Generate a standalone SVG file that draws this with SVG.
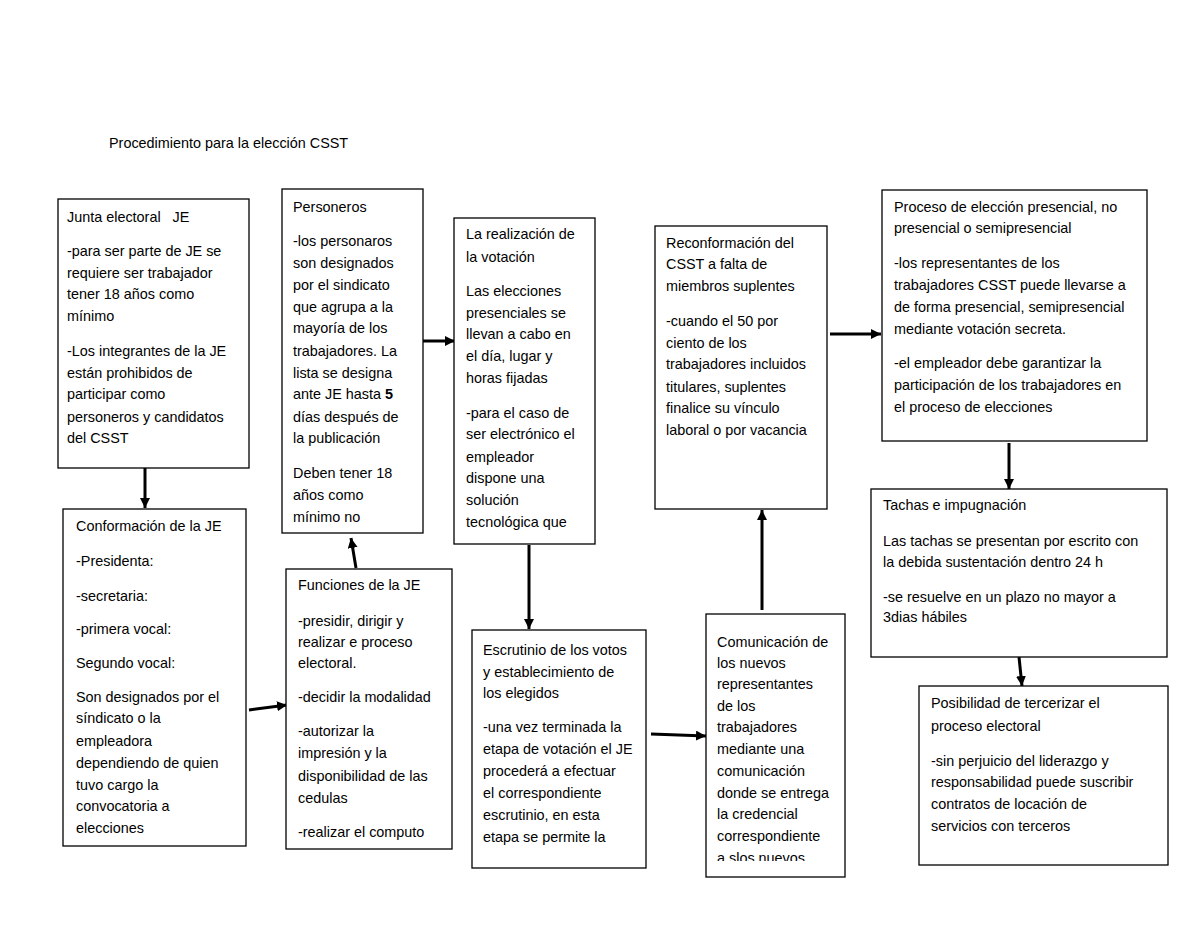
<svg xmlns="http://www.w3.org/2000/svg" width="1200" height="927" viewBox="0 0 1200 927">
<style>
.box{fill:#fff;stroke:#000;stroke-width:1.3}
.t{font-family:"Liberation Sans",Arial,sans-serif;font-size:14.4px;fill:#000}
.c{fill:none;stroke:#000;stroke-width:3;marker-end:url(#ah)}
</style>
<defs>
<marker id="ah" markerUnits="userSpaceOnUse" markerWidth="11" markerHeight="11" refX="10" refY="5" orient="auto">
<path d="M0,0 L10,5 L0,10 z" fill="#000"/>
</marker>
<clipPath id="clipCom"><rect x="705" y="614" width="140" height="247"/></clipPath>
</defs>
<rect width="1200" height="927" fill="#fff"/>
<text class="t" x="109" y="148">Procedimiento para la elección CSST</text>

<g id="connectors">
<line class="c" x1="145" y1="468" x2="145" y2="508"/>
<line class="c" x1="423" y1="341" x2="455" y2="341"/>
<line class="c" x1="249" y1="710" x2="287" y2="705"/>
<line class="c" x1="356" y1="568" x2="351" y2="538"/>
<line class="c" x1="529" y1="545" x2="529" y2="629"/>
<line class="c" x1="651" y1="734" x2="706" y2="736"/>
<line class="c" x1="762" y1="610" x2="762" y2="510"/>
<line class="c" x1="830" y1="334" x2="881" y2="334"/>
<line class="c" x1="1009" y1="443" x2="1009" y2="489"/>
<line class="c" x1="1019" y1="657" x2="1022" y2="686"/>
</g>

<g id="junta">
<rect class="box" x="58" y="199" width="191" height="269"/>
<text class="t">
<tspan x="67" y="222">Junta electoral &#160;&#160;JE</tspan>
<tspan x="67" y="256">-para ser parte de JE se</tspan>
<tspan x="67" y="278">requiere ser trabajador</tspan>
<tspan x="67" y="299">tener 18 años como</tspan>
<tspan x="67" y="321">mínimo</tspan>
<tspan x="67" y="356">-Los integrantes de la JE</tspan>
<tspan x="67" y="378">están prohibidos de</tspan>
<tspan x="67" y="399">participar como</tspan>
<tspan x="67" y="422">personeros y candidatos</tspan>
<tspan x="67" y="443">del CSST</tspan>
</text>
</g>

<g id="personeros">
<rect class="box" x="282" y="189" width="141" height="344"/>
<text class="t">
<tspan x="293" y="212">Personeros</tspan>
<tspan x="293" y="246">-los personaros</tspan>
<tspan x="293" y="268">son designados</tspan>
<tspan x="293" y="290">por el sindicato</tspan>
<tspan x="293" y="312">que agrupa a la</tspan>
<tspan x="293" y="333">mayoría de los</tspan>
<tspan x="293" y="356">trabajadores. La</tspan>
<tspan x="293" y="378">lista se designa</tspan>
<tspan x="293" y="399">ante JE hasta <tspan font-weight="bold">5</tspan></tspan>
<tspan x="293" y="422">días después de</tspan>
<tspan x="293" y="443">la publicación</tspan>
<tspan x="293" y="478">Deben tener 18</tspan>
<tspan x="293" y="500">años como</tspan>
<tspan x="293" y="522">mínimo no</tspan>
</text>
</g>

<g id="votacion">
<rect class="box" x="454" y="218" width="141" height="326"/>
<text class="t">
<tspan x="466" y="239">La realización de</tspan>
<tspan x="466" y="262">la votación</tspan>
<tspan x="466" y="296">Las elecciones</tspan>
<tspan x="466" y="318">presenciales se</tspan>
<tspan x="466" y="339">llevan a cabo en</tspan>
<tspan x="466" y="361">el día, lugar y</tspan>
<tspan x="466" y="383">horas fijadas</tspan>
<tspan x="466" y="418">-para el caso de</tspan>
<tspan x="466" y="439">ser electrónico el</tspan>
<tspan x="466" y="462">empleador</tspan>
<tspan x="466" y="483">dispone una</tspan>
<tspan x="466" y="505">solución</tspan>
<tspan x="466" y="527">tecnológica que</tspan>
</text>
</g>

<g id="reconformacion">
<rect class="box" x="655" y="226" width="172" height="283"/>
<text class="t">
<tspan x="666" y="248">Reconformación del</tspan>
<tspan x="666" y="269">CSST a falta de</tspan>
<tspan x="666" y="291">miembros suplentes</tspan>
<tspan x="666" y="326">-cuando el 50 por</tspan>
<tspan x="666" y="348">ciento de los</tspan>
<tspan x="666" y="369">trabajadores incluidos</tspan>
<tspan x="666" y="392">titulares, suplentes</tspan>
<tspan x="666" y="413">finalice su vínculo</tspan>
<tspan x="666" y="435">laboral o por vacancia</tspan>
</text>
</g>

<g id="proceso">
<rect class="box" x="882" y="190" width="265" height="251"/>
<text class="t">
<tspan x="894" y="212">Proceso de elección presencial, no</tspan>
<tspan x="894" y="233">presencial o semipresencial</tspan>
<tspan x="894" y="268">-los representantes de los</tspan>
<tspan x="894" y="290">trabajadores CSST puede llevarse a</tspan>
<tspan x="894" y="312">de forma presencial, semipresencial</tspan>
<tspan x="894" y="334">mediante votación secreta.</tspan>
<tspan x="894" y="368">-el empleador debe garantizar la</tspan>
<tspan x="894" y="390">participación de los trabajadores en</tspan>
<tspan x="894" y="412">el proceso de elecciones</tspan>
</text>
</g>

<g id="tachas">
<rect class="box" x="871" y="489" width="296" height="168"/>
<text class="t">
<tspan x="883" y="510">Tachas e impugnación</tspan>
<tspan x="883" y="546">Las tachas se presentan por escrito con</tspan>
<tspan x="883" y="567">la debida sustentación dentro 24 h</tspan>
<tspan x="883" y="602">-se resuelve en un plazo no mayor a</tspan>
<tspan x="883" y="622">3dias hábiles</tspan>
</text>
</g>

<g id="posibilidad">
<rect class="box" x="919" y="686" width="249" height="179"/>
<text class="t">
<tspan x="931" y="708">Posibilidad de tercerizar el</tspan>
<tspan x="931" y="731">proceso electoral</tspan>
<tspan x="931" y="766">-sin perjuicio del liderazgo y</tspan>
<tspan x="931" y="787">responsabilidad puede suscribir</tspan>
<tspan x="931" y="809">contratos de locación de</tspan>
<tspan x="931" y="831">servicios con terceros</tspan>
</text>
</g>

<g id="conformacion">
<rect class="box" x="63" y="509" width="183" height="337"/>
<text class="t">
<tspan x="76" y="531">Conformación de la JE</tspan>
<tspan x="76" y="566">-Presidenta:</tspan>
<tspan x="76" y="601">-secretaria:</tspan>
<tspan x="76" y="634">-primera vocal:</tspan>
<tspan x="76" y="668">Segundo vocal:</tspan>
<tspan x="76" y="702">Son designados por el</tspan>
<tspan x="76" y="723">síndicato o la</tspan>
<tspan x="76" y="746">empleadora</tspan>
<tspan x="76" y="768">dependiendo de quien</tspan>
<tspan x="76" y="790">tuvo cargo la</tspan>
<tspan x="76" y="811">convocatoria a</tspan>
<tspan x="76" y="833">elecciones</tspan>
</text>
</g>

<g id="funciones">
<rect class="box" x="286" y="569" width="166" height="280"/>
<text class="t">
<tspan x="298" y="590">Funciones de la JE</tspan>
<tspan x="298" y="626">-presidir, dirigir y</tspan>
<tspan x="298" y="647">realizar e proceso</tspan>
<tspan x="298" y="668">electoral.</tspan>
<tspan x="298" y="702">-decidir la modalidad</tspan>
<tspan x="298" y="736">-autorizar la</tspan>
<tspan x="298" y="758">impresión y la</tspan>
<tspan x="298" y="781">disponibilidad de las</tspan>
<tspan x="298" y="803">cedulas</tspan>
<tspan x="298" y="837">-realizar el computo</tspan>
</text>
</g>

<g id="escrutinio">
<rect class="box" x="472" y="630" width="174" height="238"/>
<text class="t">
<tspan x="483" y="655">Escrutinio de los votos</tspan>
<tspan x="483" y="677">y establecimiento de</tspan>
<tspan x="483" y="698">los elegidos</tspan>
<tspan x="483" y="732">-una vez terminada la</tspan>
<tspan x="483" y="754">etapa de votación el JE</tspan>
<tspan x="483" y="776">procederá a efectuar</tspan>
<tspan x="483" y="798">el correspondiente</tspan>
<tspan x="483" y="820">escrutinio, en esta</tspan>
<tspan x="483" y="842">etapa se permite la</tspan>
</text>
</g>

<g id="comunicacion">
<rect class="box" x="706" y="614" width="139" height="263"/>
<text class="t" clip-path="url(#clipCom)">
<tspan x="717" y="647">Comunicación de</tspan>
<tspan x="717" y="668">los nuevos</tspan>
<tspan x="717" y="689">representantes</tspan>
<tspan x="717" y="711">de los</tspan>
<tspan x="717" y="732">trabajadores</tspan>
<tspan x="717" y="754">mediante una</tspan>
<tspan x="717" y="776">comunicación</tspan>
<tspan x="717" y="798">donde se entrega</tspan>
<tspan x="717" y="819">la credencial</tspan>
<tspan x="717" y="841">correspondiente</tspan>
<tspan x="717" y="863">a slos nuevos</tspan>
</text>
</g>
</svg>
